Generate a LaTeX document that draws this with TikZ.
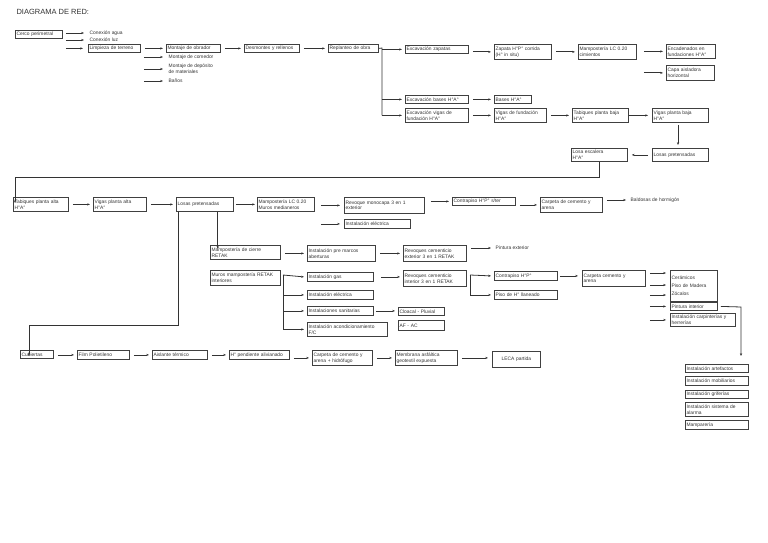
\documentclass[tikz,border=0pt]{standalone}
\usepackage{fontspec}
\setmainfont{Liberation Sans}
\usetikzlibrary{arrows.meta}
\tikzset{
 bx/.style={draw=black!75,line width=0.8pt,anchor=north west,inner xsep=1.2pt,inner ysep=0.8pt,align=left,font=\fontsize{4.9}{5.8}\selectfont,text=black!80},
 tx/.style={anchor=west,inner sep=0.5pt,align=left,font=\fontsize{4.9}{5.8}\selectfont,text=black!80},
 ar/.style={draw=black!80,line width=0.8pt,-{Stealth[length=2.8pt,width=2.2pt]}},
 ln/.style={draw=black!80,line width=0.8pt}
}
\newcommand\bx[6]{\node[bx,minimum width=#4pt,minimum height=#5pt,text width=\dimexpr#4pt-2.4pt\relax] (#1) at (#2,#3) {#6};}
\newcommand\con[2]{\draw[ar] ([xshift=4pt]#1.east |- #2.west) -- ([xshift=-3pt]#2.west);}
\begin{document}
\begin{tikzpicture}[x=1pt,y=-1pt]
\useasboundingbox (0,0) rectangle (768,543);
\node[anchor=west,font=\fontsize{7.5}{8.5}\selectfont,text=black!80] (title) at (13,12) {DIAGRAMA DE RED:};
% row 1
\bx{cer}{15}{30}{47}{8}{Cerco perimetral}
\node[tx] (agua) at (89,33) {Conexión agua};
\node[tx] (luz) at (89,40) {Conexión luz};
\bx{lim}{88}{44}{52}{8}{Limpieza de terreno}
\draw[ar] ([xshift=3pt]cer.east |- agua.west) -- ([xshift=-5pt]agua.west);
\draw[ar] ([xshift=3pt]cer.east |- luz.west) -- ([xshift=-5pt]luz.west);
\draw[ar] ([xshift=3pt]cer.east |- lim.west) -- ([xshift=-5pt]lim.west);
\bx{obr}{166}{44}{54}{8}{Montaje de obrador}
\con{lim}{obr}
\node[tx] (com) at (168,57) {Montaje de comedor};
\node[tx] (dep) at (168,69) {Montaje de depósito\\de materiales};
\node[tx] (ban) at (168,81) {Baños};
\draw[ar] ([xshift=3pt]lim.east |- com.west) -- ([xshift=-5pt]com.west);
\draw[ar] ([xshift=3pt]lim.east |- dep.west) -- ([xshift=-5pt]dep.west);
\draw[ar] ([xshift=3pt]lim.east |- ban.west) -- ([xshift=-5pt]ban.west);
\bx{des}{244}{44}{55}{8}{Desmontes y rellenos}
\con{obr}{des}
\bx{rep}{328}{44}{50}{8}{Replanteo de obra}
\con{des}{rep}
% excavations
\bx{exz}{405}{45}{63}{8}{Excavación zapatas}
\bx{exb}{405}{95}{63}{8}{Excavación bases H°A°}
\bx{exv}{405}{108}{63}{14}{Excavación vigas de\\fundación H°A°}
\coordinate (b1) at (382,48);
\draw[ln] (rep.east) -- (b1) -- (b1 |- exv.west);
\draw[ar] (b1 |- exz.west) -- ([xshift=-3pt]exz.west);
\draw[ar] (b1 |- exb.west) -- ([xshift=-3pt]exb.west);
\draw[ar] (b1 |- exv.west) -- ([xshift=-3pt]exv.west);
\bx{zap}{494}{44}{57}{15}{Zapata H°P° corrida\\(H° in situ)}
\con{exz}{zap}
\bx{mam}{578}{44}{58}{15}{Mampostería LC 0.20\\cimientos}
\con{zap}{mam}
\bx{enc}{666}{44}{49}{14}{Encadenados en\\fundaciones H°A°}
\bx{cap}{666}{65}{48}{15}{Capa aisladora\\horizontal}
\draw[ar] ([xshift=7pt]mam.east |- enc.west) -- ([xshift=-3pt]enc.west);
\draw[ar] ([xshift=7pt]mam.east |- cap.west) -- ([xshift=-3pt]cap.west);
\bx{bas}{494}{95}{37}{8}{Bases H°A°}
\con{exb}{bas}
\bx{vfu}{494}{108}{52}{14}{Vigas de fundación\\H°A°}
\con{exv}{vfu}
\bx{tpb}{572}{108}{56}{14}{Tabiques planta baja\\H°A°}
\con{vfu}{tpb}
\bx{vpb}{652}{108}{56}{14}{Vigas planta baja\\H°A°}
\draw[ar] (tpb.east) -- ([xshift=-4pt]vpb.west);
\bx{lp1}{652}{148}{56}{13}{Losas pretensadas}
\draw[ar] ([yshift=-2pt]vpb.south -| 678,0) -- ([yshift=3pt]lp1.north -| 678,0);
\bx{les}{571}{148}{56}{13}{Losa escalera\\H°A°}
\draw[ar] ([xshift=-4pt]lp1.west) -- ([xshift=4pt]les.east);
% row 2
\bx{tpa}{13}{197}{55}{14}{Tabiques planta alta\\H°A°}
\coordinate (r1) at (599,177);
\coordinate (r2) at (15,177);
\draw[ar] (les.south -| r1) -- (r1) -- (r2) -- ([yshift=-6pt]tpa.north -| r2);
\bx{vpa}{93}{197}{53}{14}{Vigas planta alta\\H°A°}
\con{tpa}{vpa}
\bx{lp2}{176}{197}{57}{14}{Losas pretensadas}
\con{vpa}{lp2}
\bx{mmm}{257}{197}{57}{14}{Mampostería LC 0.20\\Muros medianeros}
\draw[ar] ([xshift=2pt]lp2.east |- mmm.west) -- ([xshift=-2pt]mmm.west);
\bx{rev}{344}{197}{80}{16}{Revoque monocapa 3 en 1\\exterior}
\bx{iel}{344}{219}{66}{9}{Instalación eléctrica}
\draw[ar] ([xshift=6pt]mmm.east |- rev.west) -- ([xshift=-4pt]rev.west);
\draw[ar] ([xshift=6pt]mmm.east |- iel.west) -- ([xshift=-4pt]iel.west);
\bx{cps}{452}{197}{63}{8}{Contrapiso H°P° s/ter}
\draw[ar] ([xshift=6pt]rev.east |- cps.west) -- ([xshift=-3pt]cps.west);
\bx{cpa}{540}{197}{62}{15}{Carpeta de cemento y\\arena}
\con{cps}{cpa}
\node[tx] (bal) at (630,200) {Baldosas de hormigón};
\draw[ar] ([xshift=4pt]cpa.east |- bal.west) -- ([xshift=-4pt]bal.west);
% middle block
\bx{mci}{210}{245}{70}{14}{Mampostería de cierre\\RETAK}
\draw[ar] ([xshift=-16pt]lp2.south east) -- ([xshift=-16pt,yshift=-4pt]lp2.south east |- mci.north);
\bx{ipm}{307}{245}{68}{16}{Instalación pre marcos\\aberturas}
\con{mci}{ipm}
\bx{rce}{403}{245}{63}{16}{Revoques cementicio\\exterior 3 en 1 RETAK}
\con{ipm}{rce}
\node[tx] (pex) at (495,248) {Pintura exterior};
\draw[ar] ([xshift=4pt]rce.east |- pex.west) -- ([xshift=-4pt]pex.west);
\bx{mri}{210}{270}{70}{15}{Muros mampostería RETAK\\interiores}
\bx{gas}{307}{272}{66}{9}{Instalación gas}
\bx{ie2}{307}{290}{66}{9}{Instalación eléctrica}
\bx{isa}{307}{306}{66}{9}{Instalaciones sanitarias}
\bx{iac}{307}{322}{80}{14}{Instalación acondicionamiento\\F/C}
\coordinate (b2) at (283,275);
\draw[ln] (b2) -- (b2 |- iac.west);
\draw[ar] (b2) -- ([xshift=-3pt]gas.west);
\draw[ar] (b2 |- ie2.west) -- ([xshift=-3pt]ie2.west);
\draw[ar] (b2 |- isa.west) -- ([xshift=-3pt]isa.west);
\draw[ar] (b2 |- iac.west) -- ([xshift=-3pt]iac.west);
\bx{rci}{403}{270}{63}{16}{Revoques cementicio\\interior 3 en 1 RETAK}
\draw[ar] ([xshift=7pt]gas.east) -- ([xshift=-3pt]gas.east -| rci.west);
\bx{cph}{494}{271}{63}{9}{Contrapiso H°P°}
\bx{pil}{494}{290}{63}{9}{Piso de H° llaneado}
\coordinate (b3) at (470,275);
\draw[ln] (b3) -- (b3 |- pil.west);
\draw[ar] (b3) -- ([xshift=-3pt]cph.west);
\draw[ar] (b3 |- pil.west) -- ([xshift=-3pt]pil.west);
\bx{clo}{398}{307}{46}{8}{Cloacal - Pluvial}
\bx{afc}{398}{320}{46}{10}{AF - AC}
\draw[ar] ([xshift=2pt]isa.east) -- ([xshift=-3pt]isa.east -| clo.west);
\bx{cca}{582}{270}{63}{16}{Carpeta cemento y\\arena}
\draw[ar] ([xshift=2pt]cph.east) -- ([xshift=-4pt]cph.east -| cca.west);
\node[bx,minimum width=47pt,minimum height=31pt,text width=44.6pt,align=left] (cer2) at (670,270) {Cerámicos\\[2pt]Piso de Madera\\[2pt]Zócalos};
\bx{pin}{670}{302}{47}{8}{Pintura interior}
\bx{ica}{670}{313}{65}{13}{Instalación carpinterías y\\herrerías}
\foreach \yy in {273,285,295} {\draw[ar] ([xshift=4pt]cca.east |- 0,\yy) -- ([xshift=-4pt]cer2.west |- 0,\yy);}
\draw[ar] ([xshift=4pt]cca.east |- pin.west) -- ([xshift=-4pt]pin.west);
\draw[ar] ([xshift=4pt]cca.east |- ica.west) -- ([xshift=-4pt]ica.west);
\bx{iar}{685}{364}{63}{8}{Instalación artefactos}
\bx{imo}{685}{376}{63}{9}{Instalación mobiliarios}
\bx{igr}{685}{390}{63}{8}{Instalación griferías}
\bx{isi}{685}{402}{63}{14}{Instalación sistema de\\alarma}
\bx{mpa}{685}{420}{63}{9}{Mamparería}
\coordinate (b4) at (741,307);
\draw[ar] ([xshift=3pt]pin.east) -- (b4) -- (741,356);
% bottom row
\bx{cub}{20}{350}{33}{8}{Cubiertas}
\coordinate (c1) at (178,325);
\coordinate (c2) at (29,325);
\draw[ar] ([xshift=2pt]lp2.south west) -- ([xshift=2pt]lp2.south west |- c1) -- (c2) -- ([yshift=-6pt]cub.north -| c2);
\bx{fil}{77}{350}{52}{9}{Film Polietileno}
\con{cub}{fil}
\bx{ais}{152}{350}{55}{9}{Aislante térmico}
\con{fil}{ais}
\bx{hpa}{229}{350}{60}{9}{H° pendiente alivianado}
\con{ais}{hpa}
\bx{cah}{312}{350}{60}{15}{Carpeta de cemento y\\arena + hidrófugo}
\con{hpa}{cah}
\bx{mem}{395}{350}{62}{15}{Membrana asfáltica\\geotextil expuesta}
\con{cah}{mem}
\node[bx,minimum width=48pt,minimum height=16pt,text width=45.6pt,align=center] (lec) at (492,351) {LECA partida};
\draw[ar] ([xshift=4pt]mem.east) -- ([xshift=-4pt]mem.east -| lec.west);
\end{tikzpicture}
\end{document}
